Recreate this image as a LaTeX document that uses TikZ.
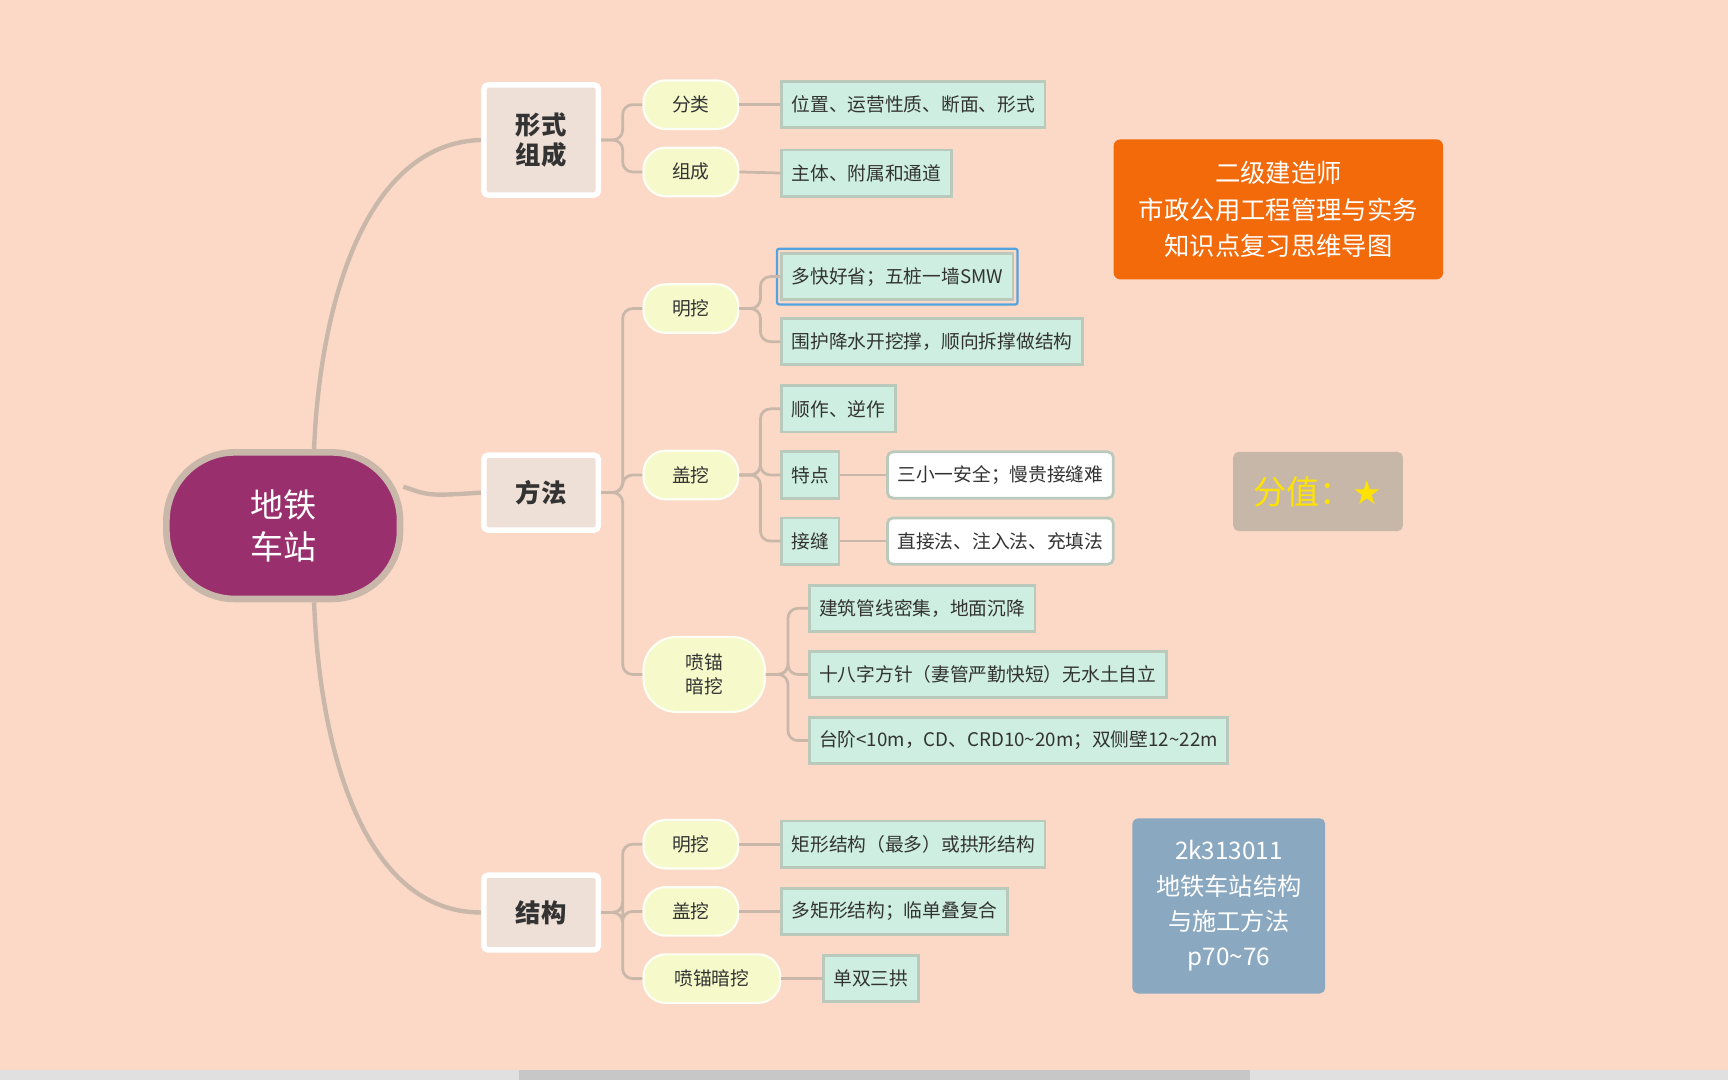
\documentclass[tikz,border=0pt]{standalone}
\usepackage{fontspec}
\setmainfont{Noto Sans CJK SC}
\newfontfamily\djv{DejaVu Sans}
\definecolor{bg}{HTML}{FCD9C6}
\definecolor{rootc}{HTML}{9A2F6E}
\definecolor{line}{HTML}{C9B8AA}
\definecolor{lone}{HTML}{EEE0D7}
\definecolor{pill}{HTML}{F6F9C9}
\definecolor{mint}{HTML}{CDEEE0}
\definecolor{mintb}{HTML}{B9C9BB}
\definecolor{orangec}{HTML}{F26A0A}
\definecolor{scorec}{HTML}{C6B7A8}
\definecolor{bluec}{HTML}{8AA8C0}
\begin{document}
\begin{tikzpicture}[x=1pt,y=-1pt,
 conn/.style={draw=line,line width=2.5pt,rounded corners=9pt},
 lone/.style={draw=white,line width=5pt,fill=lone,rounded corners=4pt,minimum width=104pt,font=\bfseries\fontsize{23}{28}\selectfont,align=center,text=black!80},
 pill/.style={draw=white!80!pill,line width=2pt,fill=pill,rounded corners=20pt,minimum height=44pt,font=\fontsize{17}{22}\selectfont,align=center,text=black!80},
 lf/.style={draw=mintb,line width=2.5pt,fill=mint,minimum height=42pt,inner xsep=9pt,font=\fontsize{17}{20}\selectfont,text=black!80,anchor=west},
 wf/.style={lf,fill=white,rounded corners=5pt}]
\fill[bg] (0,0) rectangle (1568,980);
\fill[black!12] (0,971) rectangle (1568,980);
\fill[black!22] (471,971) rectangle (1134,980);
% root
\node[draw=line,line width=6pt,fill=rootc,rounded corners=62pt,minimum width=212pt,minimum height=133pt,text=white,font=\fontsize{30}{38}\selectfont,align=center] (root) at (257,477) {地铁\\车站};
% level 1
\node[lone,minimum height=100pt] (f1) at (491,127) {形式\\组成};
\node[lone,minimum height=68pt] (f2) at (491,447) {方法};
\node[lone,minimum height=68pt] (f3) at (491,828) {结构};
\draw[line width=4pt,draw=line] ([xshift=28]root.north) .. controls (290,280) and (330,130) .. (f1.west);
\draw[line width=4pt,draw=line] (root.18) .. controls (390,450) .. (f2.west);
\draw[line width=4pt,draw=line] ([xshift=28]root.south) .. controls (290,680) and (330,828) .. (f3.west);
% level 2
\node[pill,minimum width=86pt] (a1) at (627,95) {分类};
\node[pill,minimum width=86pt] (a2) at (627,156) {组成};
\node[pill,minimum width=86pt] (b1) at (627,280) {明挖};
\node[pill,minimum width=86pt] (b2) at (627,431) {盖挖};
\node[pill,minimum width=110pt,minimum height=68pt,rounded corners=30pt] (b3) at (639,612) {喷锚\\暗挖};
\node[pill,minimum width=86pt] (c1) at (627,766) {明挖};
\node[pill,minimum width=86pt] (c2) at (627,827) {盖挖};
\node[pill,minimum width=124pt] (c3) at (646,888) {喷锚暗挖};
\foreach \c in {a1,a2} \draw[conn] (f1.east) -- (565,127) |- (\c.west);
\foreach \c in {b1,b2,b3} \draw[conn] (f2.east) -- (565,447) |- (\c.west);
\foreach \c in {c1,c2,c3} \draw[conn] (f3.east) -- (565,828) |- (\c.west);
% level 3
\node[lf] (d1) at (708,95) {位置、运营性质、断面、形式};
\node[lf] (d2) at (708,157) {主体、附属和通道};
\node[lf] (d3) at (708,251) {多快好省；五桩一墙SMW};
\draw[draw=cyan!70!blue!70,line width=2pt,rounded corners=2pt] ([shift={(-3,-3)}]d3.north west) rectangle ([shift={(3,3)}]d3.south east);
\node[lf] (d4) at (708,310) {围护降水开挖撑，顺向拆撑做结构};
\node[lf] (e1) at (708,371) {顺作、逆作};
\node[lf] (e2) at (708,431) {特点};
\node[lf] (e3) at (708,491) {接缝};
\node[wf] (e4) at (804,431) {三小一安全；慢贵接缝难};
\node[wf] (e5) at (804,491) {直接法、注入法、充填法};
\node[lf] (g1) at (733,552) {建筑管线密集，地面沉降};
\node[lf] (g2) at (733,612) {十八字方针（妻管严勤快短）无水土自立};
\node[lf] (g3) at (733,672) {台阶<10m，CD、CRD10\textasciitilde20m；双侧壁12\textasciitilde22m};
\node[lf] (h1) at (708,766) {矩形结构（最多）或拱形结构};
\node[lf] (h2) at (708,827) {多矩形结构；临单叠复合};
\node[lf] (h3) at (746,888) {单双三拱};
\draw[conn] (a1.east) -- (d1.west);
\draw[conn] (a2.east) -- (d2.west);
\foreach \c in {d3,d4} \draw[conn] (b1.east) -- (690,280) |- (\c.west);
\foreach \c in {e1,e2,e3} \draw[conn] (b2.east) -- (690,431) |- (\c.west);
\draw[conn] (e2.east) -- (e4.west);
\draw[conn] (e3.east) -- (e5.west);
\foreach \c in {g1,g2,g3} \draw[conn] (b3.east) -- (715,612) |- (\c.west);
\draw[conn] (c1.east) -- (h1.west);
\draw[conn] (c2.east) -- (h2.west);
\draw[conn] (c3.east) -- (h3.west);
% side boxes
\node[fill=orangec,rounded corners=6pt,minimum width=299pt,minimum height=127pt,text=white,align=center,font=\fontsize{23}{33}\selectfont] (o) at (1160,190) {二级建造师\\市政公用工程管理与实务\\知识点复习思维导图};
\node[fill=scorec,rounded corners=5pt,minimum width=154pt,minimum height=72pt,text=yellow!85!orange,font=\fontsize{30}{36}\selectfont] (s) at (1196,446) {分值：{\djv ★}};
\node[fill=bluec,rounded corners=5pt,minimum width=175pt,minimum height=159pt,text=white,align=center,font=\fontsize{22}{32}\selectfont] (bl) at (1115,822) {2k313011\\地铁车站结构\\与施工方法\\p70\textasciitilde76};
\end{tikzpicture}
\end{document}
